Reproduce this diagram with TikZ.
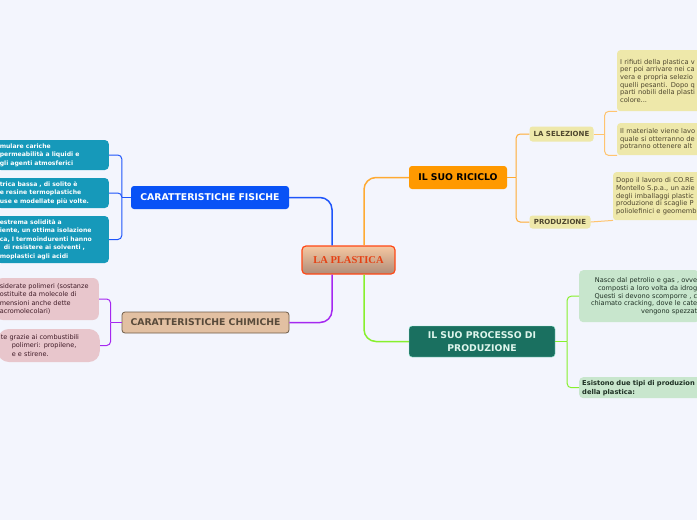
\documentclass[tikz,border=0pt]{standalone}
\usepackage{fontspec}
\setmainfont{Liberation Serif}
\newfontfamily\vfont{DejaVu Sans}
\newfontfamily\lfont{Liberation Sans}
\usetikzlibrary{positioning}
\definecolor{pBack}{RGB}{243,245,253}
\definecolor{pTeal}{RGB}{22,153,186}
\definecolor{pBlue}{RGB}{8,82,246}
\definecolor{pBlueLine}{RGB}{30,85,250}
\definecolor{pTan}{RGB}{226,192,162}
\definecolor{pTanDraw}{RGB}{110,92,72}
\definecolor{pTanText}{RGB}{88,74,58}
\definecolor{pPink}{RGB}{232,198,204}
\definecolor{pPinkText}{RGB}{62,26,38}
\definecolor{pPurple}{RGB}{165,40,240}
\definecolor{pOrange}{RGB}{255,153,0}
\definecolor{pOrangeLine}{RGB}{255,170,50}
\definecolor{pYellow}{RGB}{238,232,170}
\definecolor{pYellowText}{RGB}{78,70,46}
\definecolor{pGreen}{RGB}{26,112,96}
\definecolor{pGreenDraw}{RGB}{150,238,210}
\definecolor{pGreenText}{RGB}{222,245,236}
\definecolor{pGreenLine}{RGB}{135,240,45}
\definecolor{pMint}{RGB}{200,230,205}
\definecolor{pMintText}{RGB}{30,48,36}
\definecolor{pRootTop}{RGB}{245,200,162}
\definecolor{pRootBot}{RGB}{176,140,120}
\definecolor{pRootRed}{RGB}{255,72,22}
\tikzset{
    root/.style={rounded corners=4pt, draw=pRootRed, line width=1.2pt, top color=pRootTop, bottom color=pRootBot,
        text=pRootRed!90!black, font=\bfseries\fontsize{10.5}{12}\selectfont, minimum width=93pt, minimum height=28pt, inner sep=0pt},
    topic/.style={rounded corners=3pt, font=\vfont\bfseries\fontsize{9.3}{11}\selectfont, align=center, inner sep=0pt},
    sub/.style={rounded corners=3pt, fill=pYellow, text=pYellowText, font=\vfont\bfseries\fontsize{7}{8}\selectfont, inner sep=0pt},
    lbox/.style={rounded corners=4pt, fill=pTeal, text=white, font=\vfont\bfseries\fontsize{6.1}{8.5}\selectfont,
        align=left, inner xsep=3pt, inner ysep=0pt, text width=106pt},
    pbox/.style={rounded corners=6pt, fill=pPink, text=pPinkText, font=\vfont\fontsize{6.5}{8.5}\selectfont,
        align=left, inner xsep=3pt, inner ysep=0pt, text width=96pt},
    ybox/.style={rounded corners=3pt, fill=pYellow, text=pYellowText, font=\vfont\fontsize{6.7}{7.6}\selectfont,
        align=left, inner xsep=3pt, inner ysep=0pt, text width=104pt},
    gbox/.style={rounded corners=4pt, fill=pMint, text=pMintText, inner ysep=0pt},
    link/.style={line width=1.5pt, rounded corners=12pt},
    twig/.style={line width=1pt, rounded corners=4pt}
}

\begin{document}
\begin{tikzpicture}[x=1pt,y=-1pt]
\clip (0,0) rectangle (697,520);
\fill[pBack] (0,0) rectangle (697,520);
% centre and main topics
\node[root] (plastica) at (348.5,260) {LA PLASTICA};
\node[topic, fill=pBlue, text=white, minimum width=158pt, minimum height=23pt] (fis) at (210,197.5) {CARATTERISTICHE FISICHE};
\node[topic, fill=pTan, draw=pTanDraw, thick, text=pTanText, minimum width=167pt, minimum height=21pt] (chim) at (205.5,322.5) {CARATTERISTICHE CHIMICHE};
\node[topic, fill=pOrange, text=black, minimum width=98pt, minimum height=23pt] (ric) at (458,177.5) {IL SUO RICICLO};
\node[topic, fill=pGreen, draw=pGreenDraw, text=pGreenText, minimum width=146pt, minimum height=31pt,
    font=\vfont\bfseries\fontsize{9.3}{12.5}\selectfont] (proc) at (482,341.5) {IL SUO PROCESSO DI\\PRODUZIONE};
% fisiche
\node[lbox, anchor=east, minimum height=30pt] (f1) at (109,155) {mulare cariche\\permeabilità a liquidi e\\gli agenti atmosferici};
\node[lbox, anchor=east, minimum height=30pt] (f2) at (109,193) {trica bassa , di solito è\\e resine termoplastiche\\use e modellate più volte.};
\node[lbox, anchor=east, minimum height=47pt] (f3) at (109,239.5) {estrema solidità a\\iente, un ottima isolazione\\ca, I termoindurenti hanno\\\hspace{4pt}di resistere ai solventi ,\\moplastici agli acidi};
% chimiche
\node[pbox, anchor=east, minimum height=42pt] (c1) at (99,299) {siderate polimeri (sostanze\\ostituite da molecole di\\mensioni anche dette\\acromolecolari)};
\node[pbox, anchor=east, minimum height=33pt, rounded corners=11pt] (c2) at (100,345.5) {te grazie ai combustibili\\\hspace{11pt}polimeri: propilene,\\\hspace{11pt}e e stirene.};
% riciclo
\node[sub, minimum width=64pt, minimum height=15pt] (sel) at (561.5,134) {LA SELEZIONE};
\node[sub, minimum width=61pt, minimum height=13pt] (prod) at (560,222) {PRODUZIONE};
\node[ybox, anchor=north west, minimum height=61pt] (s1) at (617,50) {I rifiuti della plastica v\\per poi arrivare nei ca\\vera e propria selezio\\quelli pesanti. Dopo q\\parti nobili della plasti\\colore...};
\node[ybox, anchor=north west, minimum height=32pt] (s2) at (617,123) {Il materiale viene lavo\\quale si otterranno de\\potranno ottenere alt};
\node[ybox, anchor=north west, minimum height=48pt] (r1) at (613,172) {Dopo il lavoro di CO.RE\\Montello S.p.a., un azie\\degli imballaggi plastic\\produzione di scaglie P\\poliolefinici e geomemb};
% processo
\node[gbox, anchor=north west, minimum height=52pt, text width=116pt, inner xsep=2pt, align=right,
    font=\vfont\fontsize{6.6}{7.8}\selectfont] (g1) at (579,270) {Nasce dal petrolio e gas , ovve\\composti a loro volta da idrog\\Questi si devono scomporre , c\\chiamato cracking, dove le cate\\vengono spezzat\hspace{14pt}};
\node[gbox, anchor=north west, minimum height=21pt, text width=118pt, inner xsep=3pt, align=left,
    font=\vfont\bfseries\fontsize{6.7}{9}\selectfont] (g2) at (579,377) {Esistono due tipi di produzion\\della plastica:};
% connectors
\draw[link, pBlueLine] ([xshift=-16.5pt]plastica.north) |- (fis.east);
\draw[link, pPurple] ([xshift=-16.5pt]plastica.south) |- (chim.east);
\draw[link, pOrangeLine] ([xshift=15.5pt]plastica.north) |- (ric.west);
\draw[link, pGreenLine] ([xshift=15.5pt]plastica.south) |- (proc.west);
\draw[twig, pBlueLine] (fis.west) -- ++(-9,0) coordinate (fisJ);
\draw[twig, pBlueLine] (fisJ) |- (f1.east);
\draw[twig, pBlueLine] (fisJ) |- (f2.east);
\draw[twig, pBlueLine] (fisJ) |- (f3.east);
\draw[twig, pPurple] (chim.west) -- ++(-11,0) coordinate (chimJ);
\draw[twig, pPurple] (chimJ) |- (c1.east);
\draw[twig, pPurple] (chimJ) |- (c2.east);
\draw[twig, pOrangeLine] (ric.east) -- ++(9,0) coordinate (ricJ);
\draw[twig, pOrangeLine] (ricJ) |- (sel.west);
\draw[twig, pOrangeLine] (ricJ) |- (prod.west);
\draw[twig, pOrangeLine!70] (sel.east) -- ++(11,0) coordinate (selJ);
\draw[twig, pOrangeLine!70] (selJ) |- (s1.south west);
\draw[twig, pOrangeLine!70] (selJ) |- (s2.south west);
\draw[twig, pOrangeLine!70] (prod.east) -- (r1.south west);
\draw[twig, pGreenLine] (proc.east) -- ++(12,0) coordinate (procJ);
\draw[twig, pGreenLine] (procJ) |- (g1.west);
\draw[twig, pGreenLine] (procJ) |- (g2.west);
\end{tikzpicture}
\end{document}
